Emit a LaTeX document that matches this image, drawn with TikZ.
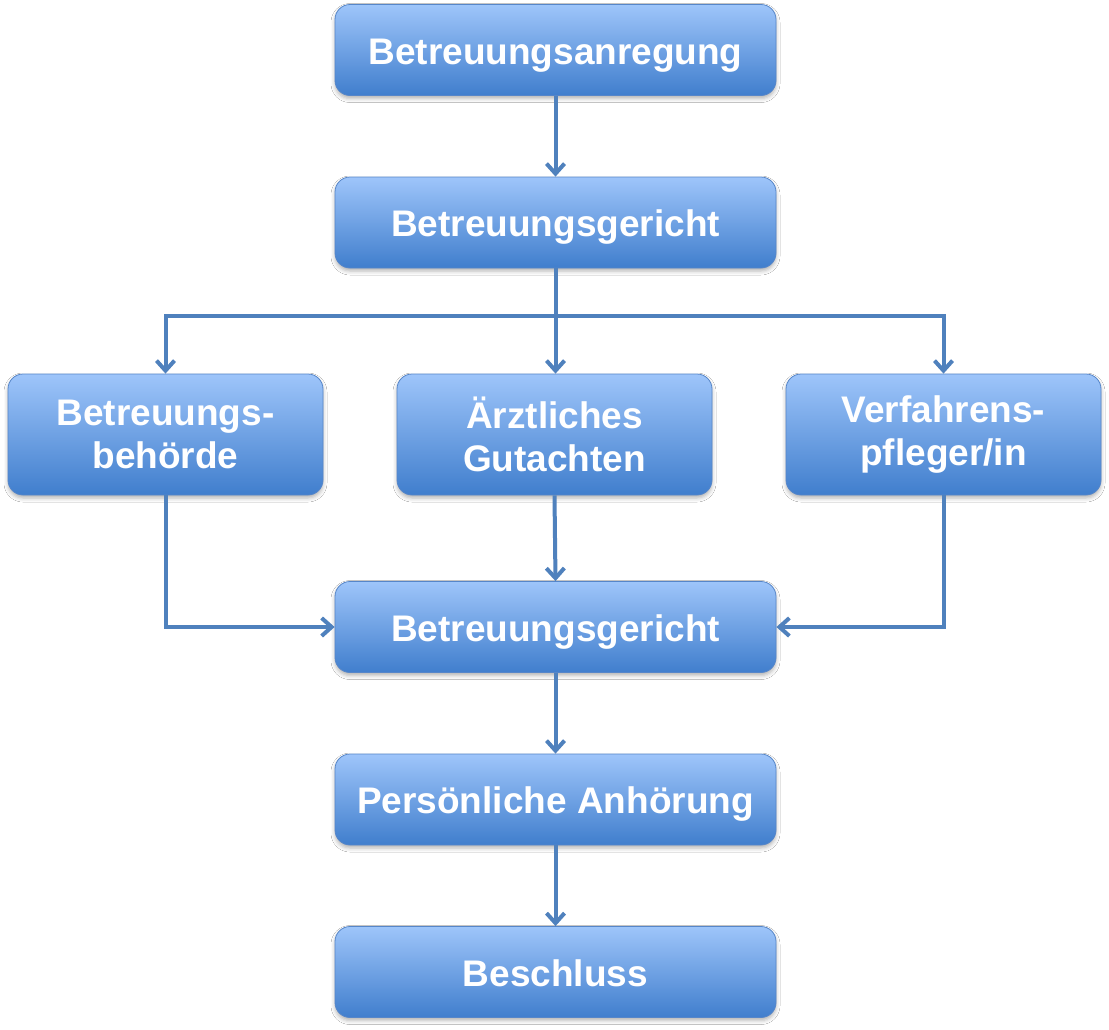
\documentclass[tikz,border=0pt]{standalone}
\usepackage{fontspec}
\setmainfont{Liberation Sans}
\usetikzlibrary{arrows.meta,shadows.blur}
\definecolor{boxtop}{RGB}{158,197,250}
\definecolor{boxbot}{RGB}{64,126,205}
\definecolor{boxline}{RGB}{86,134,201}
\definecolor{conncol}{RGB}{79,129,189}
\tikzset{
  flowbox/.style={rectangle, rounded corners=15pt, draw=boxline, line width=0.8pt,
    top color=boxtop, bottom color=boxbot, text=white,
    font=\bfseries\fontsize{37}{43}\selectfont, align=center, inner sep=0pt,
    blur shadow={shadow xshift=0pt, shadow yshift=-3pt, shadow blur radius=4pt, shadow opacity=30}},
  widebox/.style={flowbox, minimum width=441pt, minimum height=91pt, text height=28pt, text depth=0pt},
  rowbox/.style={flowbox, minimum width=315pt, minimum height=121pt},
  conn/.style={draw=conncol, line width=4pt, -{Straight Barb[length=10pt,width=18pt,line width=4pt]}}
}
\begin{document}
\begin{tikzpicture}[x=1pt,y=-1pt]
\useasboundingbox[fill=white] (0,0) rectangle (1109,1029);
\node[widebox] (b1) at (555.5,50) {Betreuungsanregung};
\node[widebox] (b2) at (555.5,222.5) {Betreuungsgericht};
\node[rowbox] (bl) at (165.5,434.5) {Betreuungs-\\behörde};
\node[rowbox] (bm) at (554.5,434.5) {Ärztliches\\Gutachten};
\node[rowbox] (br) at (943.5,434.5) {Verfahrens-\\pfleger/in};
\node[widebox] (b4) at (555.5,627) {Betreuungsgericht};
\node[widebox] (b5) at (555.5,799.5) {Persönliche Anhörung};
\node[widebox] (b6) at (555.5,972) {Beschluss};
\coordinate (split) at (555,316);
\draw[conn] (b1.south) -- (b2.north);
\draw[conn] (b2.south) -- (bm.north -| b2.south);
\draw[conn] (split) -| (bl.north);
\draw[conn] (split) -| (br.north);
\draw[conn] (bm.south) -- (b4.north);
\draw[conn] (bl.south) |- (b4.west);
\draw[conn] (br.south) |- (b4.east);
\draw[conn] (b4.south) -- (b5.north);
\draw[conn] (b5.south) -- (b6.north);
\end{tikzpicture}
\end{document}
